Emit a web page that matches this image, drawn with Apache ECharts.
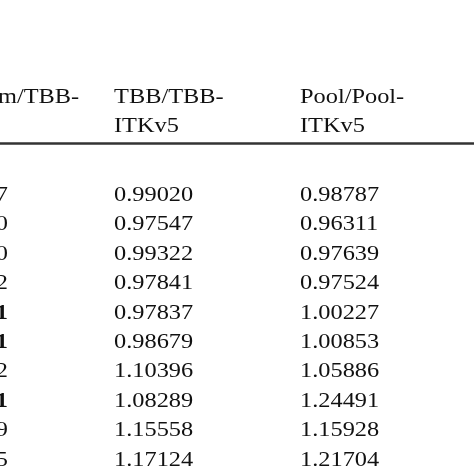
<!DOCTYPE html>
<html><head><meta charset="utf-8">
<script src="https://cdn.jsdelivr.net/npm/echarts@6/dist/echarts.min.js"></script>
<style>html,body{margin:0;background:#fff}#main{width:474px;height:474px}</style>
</head><body><div id="main"></div>
<script>
const headers1 = ["m/TBB-", "TBB/TBB-", "Pool/Pool-"];
const headers2 = ["", "ITKv5", "ITKv5"];
const col1Tail = ["7", "0", "0", "2", "1", "1", "2", "1", "9", "5"];
const col1Bold = [false, false, false, false, true, true, false, true, false, false];
const tbb = ["0.99020", "0.97547", "0.99322", "0.97841", "0.97837", "0.98679", "1.10396", "1.08289", "1.15558", "1.17124"];
const pool = ["0.98787", "0.96311", "0.97639", "0.97524", "1.00227", "1.00853", "1.05886", "1.24491", "1.15928", "1.21704"];

const chart = echarts.init(document.getElementById('main'));
const font = '"Liberation Serif", "DejaVu Serif", serif';
const sx = 1.16;
const els = [];
function txt(s, x, y, align, bold) {
  els.push({ type: 'text', x: x, y: y, scaleX: sx,
    style: { text: s, fill: '#111', font: (bold ? 'bold ' : '') + '21px ' + font,
      textAlign: align || 'left', textVerticalAlign: 'middle' } });
}
const colX = [0, 114, 300];
headers1.forEach((h, i) => txt(h, i === 0 ? -2 : colX[i], 97));
headers2.forEach((h, i) => { if (h) txt(h, colX[i], 126); });
els.push({ type: 'line', shape: { x1: 0, y1: 143.5, x2: 474, y2: 143.5 }, style: { stroke: '#333', lineWidth: 2.5 } });
const y0 = 195.5, dy = 29.4;
tbb.forEach((v, i) => {
  const y = y0 + i * dy;
  txt(col1Tail[i], 8, y, 'right', col1Bold[i]);
  txt(v, colX[1], y);
  txt(pool[i], colX[2], y);
});
chart.setOption({ animation: false, graphic: els });
</script></body></html>
